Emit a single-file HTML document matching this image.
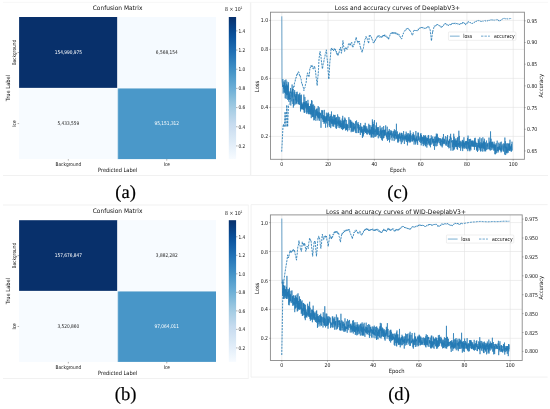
<!DOCTYPE html>
<html><head><meta charset="utf-8"><title>Confusion matrices and loss/accuracy curves</title>
<style>
html,body{margin:0;padding:0;background:#ffffff;}
body{width:550px;height:409px;overflow:hidden;}
svg{display:block;} text{text-rendering:geometricPrecision;}
</style></head>
<body>
<svg width="550" height="409" viewBox="0 0 550 409">
<rect x="0" y="0" width="550" height="409" fill="#ffffff"/>
<line x1="3" y1="2.4" x2="548" y2="2.4" stroke="#f6f6f6" stroke-width="0.9"/>
<line x1="3" y1="175.5" x2="548" y2="175.5" stroke="#efefef" stroke-width="0.9"/>
<line x1="3" y1="205" x2="248.5" y2="205" stroke="#efefef" stroke-width="0.9"/>
<line x1="251" y1="204.7" x2="547.6" y2="204.7" stroke="#efefef" stroke-width="0.9"/>
<line x1="3" y1="378.5" x2="248.5" y2="378.5" stroke="#efefef" stroke-width="0.9"/>
<line x1="251" y1="377.1" x2="547.6" y2="377.1" stroke="#efefef" stroke-width="0.9"/>
<line x1="250.6" y1="2.4" x2="250.6" y2="175.5" stroke="#f1f1f1" stroke-width="1.4"/>
<line x1="248.3" y1="205" x2="248.3" y2="378.5" stroke="#f3f3f3" stroke-width="0.9"/>
<line x1="251.1" y1="204.7" x2="251.1" y2="377.1" stroke="#efefef" stroke-width="0.9"/>
<rect x="19.1" y="17" width="98.45" height="71.05" fill="#08306b"/>
<rect x="117.55" y="17" width="98.45" height="71.05" fill="#f5faff"/>
<rect x="19.1" y="88.05" width="98.45" height="71.05" fill="#f7fbff"/>
<rect x="117.55" y="88.05" width="98.45" height="71.05" fill="#4a98c9"/>
<line x1="117.7" y1="17" x2="117.7" y2="159.1" stroke="#ffffff" stroke-width="0.55"/>
<line x1="19.1" y1="88.25" x2="216" y2="88.25" stroke="#ffffff" stroke-width="0.55"/>
<text transform="translate(68.33 54.07) scale(1 1.2)" font-size="4.3" text-anchor="middle" fill="#ffffff" font-family="'DejaVu Sans', 'Liberation Sans', sans-serif">154,990,975</text>
<text transform="translate(166.78 54.07) scale(1 1.2)" font-size="4.3" text-anchor="middle" fill="#262626" font-family="'DejaVu Sans', 'Liberation Sans', sans-serif">6,568,154</text>
<text transform="translate(68.33 125.12) scale(1 1.2)" font-size="4.3" text-anchor="middle" fill="#262626" font-family="'DejaVu Sans', 'Liberation Sans', sans-serif">5,433,559</text>
<text transform="translate(166.78 125.12) scale(1 1.2)" font-size="4.3" text-anchor="middle" fill="#ffffff" font-family="'DejaVu Sans', 'Liberation Sans', sans-serif">95,151,312</text>
<text transform="translate(117.6 9.7) scale(1 1.05)" font-size="5.9" text-anchor="middle" fill="#111111" font-family="'DejaVu Sans', 'Liberation Sans', sans-serif">Confusion Matrix</text>
<line x1="17.6" y1="52.52" x2="19.1" y2="52.52" stroke="#333" stroke-width="0.4"/>
<text transform="translate(15.9 52.52) rotate(-90) scale(1 1.2)" font-size="4.3" text-anchor="middle" fill="#111111" font-family="'DejaVu Sans', 'Liberation Sans', sans-serif">Background</text>
<line x1="17.6" y1="123.57" x2="19.1" y2="123.57" stroke="#333" stroke-width="0.4"/>
<text transform="translate(15.9 123.57) rotate(-90) scale(1 1.2)" font-size="4.3" text-anchor="middle" fill="#111111" font-family="'DejaVu Sans', 'Liberation Sans', sans-serif">Ice</text>
<text transform="translate(9.9 88.05) rotate(-90) scale(1 1.12)" font-size="5.1" text-anchor="middle" fill="#111111" font-family="'DejaVu Sans', 'Liberation Sans', sans-serif">True Label</text>
<line x1="68.33" y1="159.1" x2="68.33" y2="160.6" stroke="#333" stroke-width="0.4"/>
<text transform="translate(68.33 165.7) scale(1 1.2)" font-size="4.3" text-anchor="middle" fill="#111111" font-family="'DejaVu Sans', 'Liberation Sans', sans-serif">Background</text>
<line x1="166.78" y1="159.1" x2="166.78" y2="160.6" stroke="#333" stroke-width="0.4"/>
<text transform="translate(166.78 165.7) scale(1 1.2)" font-size="4.3" text-anchor="middle" fill="#111111" font-family="'DejaVu Sans', 'Liberation Sans', sans-serif">Ice</text>
<text transform="translate(117.6 172) scale(1 1.12)" font-size="5.1" text-anchor="middle" fill="#111111" font-family="'DejaVu Sans', 'Liberation Sans', sans-serif">Predicted Label</text>
<defs><linearGradient id="g17" x1="0" y1="0" x2="0" y2="1"><stop offset="0.00" stop-color="#08306b"/><stop offset="0.05" stop-color="#083d7f"/><stop offset="0.10" stop-color="#084a92"/><stop offset="0.15" stop-color="#0d57a1"/><stop offset="0.20" stop-color="#1764ab"/><stop offset="0.25" stop-color="#2171b5"/><stop offset="0.30" stop-color="#2e7ebc"/><stop offset="0.35" stop-color="#3b8bc3"/><stop offset="0.40" stop-color="#4a98c9"/><stop offset="0.45" stop-color="#5ba3d0"/><stop offset="0.50" stop-color="#6baed6"/><stop offset="0.55" stop-color="#7fb9da"/><stop offset="0.60" stop-color="#94c4df"/><stop offset="0.65" stop-color="#a6cde4"/><stop offset="0.70" stop-color="#b6d4e9"/><stop offset="0.75" stop-color="#c6dbef"/><stop offset="0.80" stop-color="#d0e1f2"/><stop offset="0.85" stop-color="#d9e8f5"/><stop offset="0.90" stop-color="#e3eef9"/><stop offset="0.95" stop-color="#edf5fc"/><stop offset="1.00" stop-color="#f7fbff"/></linearGradient></defs>
<rect x="228.8" y="17" width="7.3" height="142.1" fill="url(#g17)"/>
<line x1="236.1" y1="30.9" x2="237.5" y2="30.9" stroke="#333" stroke-width="0.4"/>
<text transform="translate(238.5 32.8) scale(1 1.2)" font-size="4.3" text-anchor="start" fill="#111111" font-family="'DejaVu Sans', 'Liberation Sans', sans-serif">1.4</text>
<line x1="236.1" y1="50.07" x2="237.5" y2="50.07" stroke="#333" stroke-width="0.4"/>
<text transform="translate(238.5 51.97) scale(1 1.2)" font-size="4.3" text-anchor="start" fill="#111111" font-family="'DejaVu Sans', 'Liberation Sans', sans-serif">1.2</text>
<line x1="236.1" y1="69.24" x2="237.5" y2="69.24" stroke="#333" stroke-width="0.4"/>
<text transform="translate(238.5 71.14) scale(1 1.2)" font-size="4.3" text-anchor="start" fill="#111111" font-family="'DejaVu Sans', 'Liberation Sans', sans-serif">1.0</text>
<line x1="236.1" y1="88.41" x2="237.5" y2="88.41" stroke="#333" stroke-width="0.4"/>
<text transform="translate(238.5 90.31) scale(1 1.2)" font-size="4.3" text-anchor="start" fill="#111111" font-family="'DejaVu Sans', 'Liberation Sans', sans-serif">0.8</text>
<line x1="236.1" y1="107.58" x2="237.5" y2="107.58" stroke="#333" stroke-width="0.4"/>
<text transform="translate(238.5 109.48) scale(1 1.2)" font-size="4.3" text-anchor="start" fill="#111111" font-family="'DejaVu Sans', 'Liberation Sans', sans-serif">0.6</text>
<line x1="236.1" y1="126.75" x2="237.5" y2="126.75" stroke="#333" stroke-width="0.4"/>
<text transform="translate(238.5 128.65) scale(1 1.2)" font-size="4.3" text-anchor="start" fill="#111111" font-family="'DejaVu Sans', 'Liberation Sans', sans-serif">0.4</text>
<line x1="236.1" y1="145.92" x2="237.5" y2="145.92" stroke="#333" stroke-width="0.4"/>
<text transform="translate(238.5 147.82) scale(1 1.2)" font-size="4.3" text-anchor="start" fill="#111111" font-family="'DejaVu Sans', 'Liberation Sans', sans-serif">0.2</text>
<text transform="translate(233.8 10.9) scale(1 1.2)" font-size="4.6" text-anchor="middle" fill="#111111" font-family="'DejaVu Sans', 'Liberation Sans', sans-serif">8 × 10<tspan dy="-1.7" font-size="3.0">1</tspan></text>
<rect x="19.1" y="220.2" width="98.45" height="70.85" fill="#08306b"/>
<rect x="117.55" y="220.2" width="98.45" height="70.85" fill="#f7fbff"/>
<rect x="19.1" y="291.05" width="98.45" height="70.85" fill="#f7fbff"/>
<rect x="117.55" y="291.05" width="98.45" height="70.85" fill="#4896c8"/>
<line x1="117.7" y1="220.2" x2="117.7" y2="361.9" stroke="#ffffff" stroke-width="0.55"/>
<line x1="19.1" y1="291.25" x2="216" y2="291.25" stroke="#ffffff" stroke-width="0.55"/>
<text transform="translate(68.33 257.17) scale(1 1.2)" font-size="4.3" text-anchor="middle" fill="#ffffff" font-family="'DejaVu Sans', 'Liberation Sans', sans-serif">157,676,847</text>
<text transform="translate(166.78 257.17) scale(1 1.2)" font-size="4.3" text-anchor="middle" fill="#262626" font-family="'DejaVu Sans', 'Liberation Sans', sans-serif">3,882,282</text>
<text transform="translate(68.33 328.02) scale(1 1.2)" font-size="4.3" text-anchor="middle" fill="#262626" font-family="'DejaVu Sans', 'Liberation Sans', sans-serif">3,520,860</text>
<text transform="translate(166.78 328.02) scale(1 1.2)" font-size="4.3" text-anchor="middle" fill="#ffffff" font-family="'DejaVu Sans', 'Liberation Sans', sans-serif">97,064,011</text>
<text transform="translate(117.6 212.9) scale(1 1.05)" font-size="5.9" text-anchor="middle" fill="#111111" font-family="'DejaVu Sans', 'Liberation Sans', sans-serif">Confusion Matrix</text>
<line x1="17.6" y1="255.62" x2="19.1" y2="255.62" stroke="#333" stroke-width="0.4"/>
<text transform="translate(15.9 255.62) rotate(-90) scale(1 1.2)" font-size="4.3" text-anchor="middle" fill="#111111" font-family="'DejaVu Sans', 'Liberation Sans', sans-serif">Background</text>
<line x1="17.6" y1="326.47" x2="19.1" y2="326.47" stroke="#333" stroke-width="0.4"/>
<text transform="translate(15.9 326.47) rotate(-90) scale(1 1.2)" font-size="4.3" text-anchor="middle" fill="#111111" font-family="'DejaVu Sans', 'Liberation Sans', sans-serif">Ice</text>
<text transform="translate(9.9 291.05) rotate(-90) scale(1 1.12)" font-size="5.1" text-anchor="middle" fill="#111111" font-family="'DejaVu Sans', 'Liberation Sans', sans-serif">True Label</text>
<line x1="68.33" y1="361.9" x2="68.33" y2="363.4" stroke="#333" stroke-width="0.4"/>
<text transform="translate(68.33 368.5) scale(1 1.2)" font-size="4.3" text-anchor="middle" fill="#111111" font-family="'DejaVu Sans', 'Liberation Sans', sans-serif">Background</text>
<line x1="166.78" y1="361.9" x2="166.78" y2="363.4" stroke="#333" stroke-width="0.4"/>
<text transform="translate(166.78 368.5) scale(1 1.2)" font-size="4.3" text-anchor="middle" fill="#111111" font-family="'DejaVu Sans', 'Liberation Sans', sans-serif">Ice</text>
<text transform="translate(117.6 374.8) scale(1 1.12)" font-size="5.1" text-anchor="middle" fill="#111111" font-family="'DejaVu Sans', 'Liberation Sans', sans-serif">Predicted Label</text>
<defs><linearGradient id="g220" x1="0" y1="0" x2="0" y2="1"><stop offset="0.00" stop-color="#08306b"/><stop offset="0.05" stop-color="#083d7f"/><stop offset="0.10" stop-color="#084a92"/><stop offset="0.15" stop-color="#0d57a1"/><stop offset="0.20" stop-color="#1764ab"/><stop offset="0.25" stop-color="#2171b5"/><stop offset="0.30" stop-color="#2e7ebc"/><stop offset="0.35" stop-color="#3b8bc3"/><stop offset="0.40" stop-color="#4a98c9"/><stop offset="0.45" stop-color="#5ba3d0"/><stop offset="0.50" stop-color="#6baed6"/><stop offset="0.55" stop-color="#7fb9da"/><stop offset="0.60" stop-color="#94c4df"/><stop offset="0.65" stop-color="#a6cde4"/><stop offset="0.70" stop-color="#b6d4e9"/><stop offset="0.75" stop-color="#c6dbef"/><stop offset="0.80" stop-color="#d0e1f2"/><stop offset="0.85" stop-color="#d9e8f5"/><stop offset="0.90" stop-color="#e3eef9"/><stop offset="0.95" stop-color="#edf5fc"/><stop offset="1.00" stop-color="#f7fbff"/></linearGradient></defs>
<rect x="228.8" y="220.2" width="7.3" height="141.7" fill="url(#g220)"/>
<line x1="236.1" y1="236.8" x2="237.5" y2="236.8" stroke="#333" stroke-width="0.4"/>
<text transform="translate(238.5 238.7) scale(1 1.2)" font-size="4.3" text-anchor="start" fill="#111111" font-family="'DejaVu Sans', 'Liberation Sans', sans-serif">1.4</text>
<line x1="236.1" y1="255.32" x2="237.5" y2="255.32" stroke="#333" stroke-width="0.4"/>
<text transform="translate(238.5 257.22) scale(1 1.2)" font-size="4.3" text-anchor="start" fill="#111111" font-family="'DejaVu Sans', 'Liberation Sans', sans-serif">1.2</text>
<line x1="236.1" y1="273.84" x2="237.5" y2="273.84" stroke="#333" stroke-width="0.4"/>
<text transform="translate(238.5 275.74) scale(1 1.2)" font-size="4.3" text-anchor="start" fill="#111111" font-family="'DejaVu Sans', 'Liberation Sans', sans-serif">1.0</text>
<line x1="236.1" y1="292.36" x2="237.5" y2="292.36" stroke="#333" stroke-width="0.4"/>
<text transform="translate(238.5 294.26) scale(1 1.2)" font-size="4.3" text-anchor="start" fill="#111111" font-family="'DejaVu Sans', 'Liberation Sans', sans-serif">0.8</text>
<line x1="236.1" y1="310.88" x2="237.5" y2="310.88" stroke="#333" stroke-width="0.4"/>
<text transform="translate(238.5 312.78) scale(1 1.2)" font-size="4.3" text-anchor="start" fill="#111111" font-family="'DejaVu Sans', 'Liberation Sans', sans-serif">0.6</text>
<line x1="236.1" y1="329.4" x2="237.5" y2="329.4" stroke="#333" stroke-width="0.4"/>
<text transform="translate(238.5 331.3) scale(1 1.2)" font-size="4.3" text-anchor="start" fill="#111111" font-family="'DejaVu Sans', 'Liberation Sans', sans-serif">0.4</text>
<line x1="236.1" y1="347.92" x2="237.5" y2="347.92" stroke="#333" stroke-width="0.4"/>
<text transform="translate(238.5 349.82) scale(1 1.2)" font-size="4.3" text-anchor="start" fill="#111111" font-family="'DejaVu Sans', 'Liberation Sans', sans-serif">0.2</text>
<text transform="translate(233.8 214.6) scale(1 1.2)" font-size="4.6" text-anchor="middle" fill="#111111" font-family="'DejaVu Sans', 'Liberation Sans', sans-serif">8 × 10<tspan dy="-1.7" font-size="3.0">1</tspan></text>
<defs><clipPath id="c12"><rect x="270.5" y="12.2" width="253.9" height="147.1"/></clipPath></defs>
<line x1="281.8" y1="12.2" x2="281.8" y2="159.3" stroke="#e3e3e3" stroke-width="0.6"/>
<line x1="328.08" y1="12.2" x2="328.08" y2="159.3" stroke="#e3e3e3" stroke-width="0.6"/>
<line x1="374.36" y1="12.2" x2="374.36" y2="159.3" stroke="#e3e3e3" stroke-width="0.6"/>
<line x1="420.64" y1="12.2" x2="420.64" y2="159.3" stroke="#e3e3e3" stroke-width="0.6"/>
<line x1="466.92" y1="12.2" x2="466.92" y2="159.3" stroke="#e3e3e3" stroke-width="0.6"/>
<line x1="513.2" y1="12.2" x2="513.2" y2="159.3" stroke="#e3e3e3" stroke-width="0.6"/>
<line x1="270.5" y1="136.4" x2="524.4" y2="136.4" stroke="#e3e3e3" stroke-width="0.6"/>
<line x1="270.5" y1="107.4" x2="524.4" y2="107.4" stroke="#e3e3e3" stroke-width="0.6"/>
<line x1="270.5" y1="78.4" x2="524.4" y2="78.4" stroke="#e3e3e3" stroke-width="0.6"/>
<line x1="270.5" y1="49.4" x2="524.4" y2="49.4" stroke="#e3e3e3" stroke-width="0.6"/>
<line x1="270.5" y1="20.4" x2="524.4" y2="20.4" stroke="#e3e3e3" stroke-width="0.6"/>
<path d="M281.80 16.34 L282.03 81.30 L282.38 83.87 L282.63 87.01 L282.89 79.06 L283.15 93.52 L283.40 85.01 L283.66 88.67 L283.91 81.36 L284.17 91.97 L284.42 82.57 L284.68 92.91 L284.94 80.03 L285.19 98.27 L285.45 85.72 L285.70 93.77 L285.96 79.48 L286.21 98.89 L286.47 84.36 L286.73 95.19 L286.98 81.57 L287.24 94.85 L287.49 85.77 L287.75 100.01 L288.00 84.53 L288.26 98.80 L288.52 82.25 L288.77 101.69 L289.03 91.29 L289.28 99.52 L289.54 93.39 L289.79 99.59 L290.05 91.93 L290.31 93.07 L290.56 87.97 L290.82 105.51 L291.07 91.27 L291.33 92.68 L291.58 93.17 L291.84 101.38 L292.10 84.49 L292.35 97.38 L292.61 88.71 L292.86 104.01 L293.12 88.94 L293.37 107.61 L293.63 99.00 L293.89 105.76 L294.14 92.13 L294.40 96.47 L294.65 90.17 L294.91 104.78 L295.16 95.97 L295.42 100.34 L295.68 94.23 L295.93 104.08 L296.19 91.96 L296.44 102.98 L296.70 94.13 L296.95 104.20 L297.21 91.72 L297.47 99.93 L297.72 101.31 L297.98 102.24 L298.23 94.21 L298.49 104.26 L298.74 95.37 L299.00 104.21 L299.26 94.34 L299.51 104.85 L299.77 92.76 L300.02 99.75 L300.28 99.42 L300.53 111.47 L300.79 95.16 L301.05 109.06 L301.30 94.61 L301.56 108.73 L301.81 102.49 L302.07 109.69 L302.32 104.41 L302.58 109.02 L302.84 103.57 L303.09 108.69 L303.35 102.26 L303.60 110.13 L303.86 94.58 L304.12 112.56 L304.37 102.20 L304.63 112.88 L304.88 96.94 L305.14 106.73 L305.39 102.59 L305.65 108.41 L305.91 101.12 L306.16 112.27 L306.42 100.96 L306.67 113.79 L306.93 103.78 L307.18 109.53 L307.44 103.52 L307.70 112.47 L307.95 99.88 L308.21 113.90 L308.46 103.44 L308.72 114.28 L308.97 106.04 L309.23 112.17 L309.49 106.08 L309.74 114.02 L310.00 108.65 L310.25 114.50 L310.51 103.77 L310.76 114.16 L311.02 105.71 L311.28 118.14 L311.53 100.16 L311.79 114.62 L312.04 100.69 L312.30 116.77 L312.55 104.71 L312.81 117.12 L313.07 109.89 L313.32 116.73 L313.58 104.46 L313.83 120.39 L314.09 107.80 L314.34 120.02 L314.60 105.87 L314.86 111.14 L315.11 111.55 L315.37 118.36 L315.62 110.05 L315.88 120.82 L316.13 109.11 L316.39 115.45 L316.65 108.74 L316.90 115.59 L317.16 108.47 L317.41 117.34 L317.67 111.33 L317.92 120.52 L318.18 106.04 L318.44 118.43 L318.69 112.48 L318.95 117.86 L319.20 107.32 L319.46 120.74 L319.71 112.34 L319.97 118.37 L320.23 112.90 L320.48 115.18 L320.74 113.28 L320.99 127.80 L321.25 115.13 L321.50 118.21 L321.76 109.99 L322.02 115.54 L322.27 110.80 L322.53 119.49 L322.78 110.25 L323.04 122.00 L323.29 115.08 L323.55 121.74 L323.81 115.74 L324.06 123.97 L324.32 109.89 L324.57 122.78 L324.83 116.01 L325.08 122.00 L325.34 117.40 L325.60 127.76 L325.85 116.39 L326.11 121.41 L326.36 112.67 L326.62 123.45 L326.87 116.07 L327.13 120.64 L327.39 114.53 L327.64 127.31 L327.90 112.95 L328.15 116.36 L328.41 112.54 L328.66 121.11 L328.92 113.92 L329.18 125.38 L329.43 116.70 L329.69 127.06 L329.94 119.60 L330.20 121.78 L330.45 115.98 L330.71 128.10 L330.97 114.38 L331.22 123.40 L331.48 111.44 L331.73 123.77 L331.99 118.69 L332.24 126.40 L332.50 116.52 L332.76 124.05 L333.01 119.50 L333.27 125.82 L333.52 114.78 L333.78 126.87 L334.03 119.48 L334.29 123.62 L334.55 115.16 L334.80 124.60 L335.06 114.86 L335.31 124.51 L335.57 117.73 L335.82 127.84 L336.08 117.98 L336.34 128.99 L336.59 117.10 L336.85 127.65 L337.10 121.41 L337.36 123.64 L337.61 114.37 L337.87 125.97 L338.13 119.61 L338.38 124.60 L338.64 116.56 L338.89 127.76 L339.15 121.20 L339.40 125.75 L339.66 117.22 L339.92 128.19 L340.17 119.87 L340.43 127.07 L340.68 121.45 L340.94 127.18 L341.20 120.69 L341.45 129.06 L341.71 123.33 L341.96 127.15 L342.22 118.50 L342.47 130.08 L342.73 115.84 L342.99 128.70 L343.24 121.24 L343.50 129.20 L343.75 120.35 L344.01 128.41 L344.26 119.83 L344.52 128.18 L344.78 117.51 L345.03 121.48 L345.29 118.71 L345.54 130.53 L345.80 123.84 L346.05 129.51 L346.31 120.00 L346.57 130.07 L346.82 123.80 L347.08 129.29 L347.33 124.27 L347.59 131.39 L347.84 125.00 L348.10 127.99 L348.36 123.82 L348.61 123.89 L348.87 117.19 L349.12 130.22 L349.38 126.84 L349.63 126.83 L349.89 119.46 L350.15 127.66 L350.40 120.27 L350.66 127.81 L350.91 120.39 L351.17 132.18 L351.42 122.00 L351.68 131.17 L351.94 121.62 L352.19 122.35 L352.45 124.84 L352.70 131.69 L352.96 122.88 L353.21 131.80 L353.47 122.83 L353.73 130.75 L353.98 126.95 L354.24 129.51 L354.49 123.71 L354.75 128.53 L355.00 126.29 L355.26 131.51 L355.52 121.23 L355.77 133.06 L356.03 125.20 L356.28 125.16 L356.54 120.46 L356.79 133.11 L357.05 125.58 L357.31 123.61 L357.56 123.69 L357.82 128.35 L358.07 122.05 L358.33 132.87 L358.58 124.02 L358.84 133.06 L359.10 124.99 L359.35 130.22 L359.61 126.96 L359.86 127.05 L360.12 129.33 L360.37 134.96 L360.63 122.98 L360.89 132.20 L361.14 126.43 L361.40 132.51 L361.65 127.10 L361.91 132.56 L362.16 126.72 L362.42 137.95 L362.68 129.39 L362.93 136.89 L363.19 128.84 L363.44 135.56 L363.70 125.31 L363.95 133.90 L364.21 125.74 L364.47 131.45 L364.72 125.58 L364.98 131.91 L365.23 122.87 L365.49 132.94 L365.74 126.40 L366.00 132.90 L366.26 128.49 L366.51 134.25 L366.77 126.37 L367.02 131.83 L367.28 128.58 L367.53 134.49 L367.79 129.63 L368.05 132.05 L368.30 130.52 L368.56 132.75 L368.81 123.78 L369.07 134.14 L369.32 125.01 L369.58 134.85 L369.84 129.50 L370.09 135.20 L370.35 129.69 L370.60 133.79 L370.86 125.23 L371.11 137.54 L371.37 126.84 L371.63 136.74 L371.88 127.19 L372.14 137.51 L372.39 119.40 L372.65 134.01 L372.90 121.70 L373.16 134.62 L373.42 124.04 L373.67 137.78 L373.93 128.17 L374.18 134.40 L374.44 120.07 L374.69 136.84 L374.95 130.78 L375.21 131.89 L375.46 129.33 L375.72 136.78 L375.97 125.41 L376.23 135.84 L376.48 122.56 L376.74 134.23 L377.00 127.32 L377.25 135.01 L377.51 127.33 L377.76 134.74 L378.02 128.96 L378.28 138.33 L378.53 127.12 L378.79 134.49 L379.04 131.07 L379.30 136.36 L379.55 134.39 L379.81 135.70 L380.07 125.74 L380.32 137.96 L380.58 129.70 L380.83 134.46 L381.09 128.21 L381.34 138.45 L381.60 130.51 L381.86 139.93 L382.11 127.18 L382.37 140.79 L382.62 130.41 L382.88 132.70 L383.13 129.96 L383.39 138.40 L383.65 126.03 L383.90 137.95 L384.16 129.95 L384.41 135.37 L384.67 130.18 L384.92 135.97 L385.18 129.31 L385.44 135.14 L385.69 125.37 L385.95 133.38 L386.20 134.19 L386.46 137.29 L386.71 132.40 L386.97 139.16 L387.23 126.71 L387.48 140.88 L387.74 132.22 L387.99 134.48 L388.25 131.48 L388.50 139.80 L388.76 130.84 L389.02 136.74 L389.27 129.04 L389.53 142.40 L389.78 133.26 L390.04 139.53 L390.29 130.32 L390.55 135.16 L390.81 132.21 L391.06 135.12 L391.32 130.57 L391.57 137.71 L391.83 130.94 L392.08 140.57 L392.34 133.35 L392.60 136.31 L392.85 135.33 L393.11 131.53 L393.36 131.85 L393.62 137.81 L393.87 130.87 L394.13 141.05 L394.39 129.30 L394.64 138.37 L394.90 133.97 L395.15 139.50 L395.41 130.31 L395.66 136.07 L395.92 131.98 L396.18 138.49 L396.43 123.74 L396.69 138.48 L396.94 135.26 L397.20 139.34 L397.45 131.45 L397.71 142.40 L397.97 134.16 L398.22 142.52 L398.48 135.32 L398.73 141.15 L398.99 133.93 L399.24 138.75 L399.50 132.73 L399.76 138.05 L400.01 134.20 L400.27 141.47 L400.52 136.46 L400.78 139.46 L401.03 132.78 L401.29 144.16 L401.55 132.93 L401.80 138.05 L402.06 133.21 L402.31 142.30 L402.57 134.82 L402.82 139.54 L403.08 137.46 L403.34 140.49 L403.59 131.12 L403.85 138.72 L404.10 135.32 L404.36 144.01 L404.61 136.32 L404.87 139.19 L405.13 134.18 L405.38 139.32 L405.64 135.87 L405.89 140.60 L406.15 131.66 L406.40 142.00 L406.66 135.09 L406.92 139.84 L407.17 133.12 L407.43 145.42 L407.68 134.32 L407.94 142.47 L408.19 136.61 L408.45 141.10 L408.71 133.09 L408.96 139.77 L409.22 134.36 L409.47 141.63 L409.73 134.61 L409.98 142.76 L410.24 130.54 L410.50 141.68 L410.75 133.13 L411.01 141.76 L411.26 135.50 L411.52 138.57 L411.77 138.29 L412.03 140.87 L412.29 135.50 L412.54 141.58 L412.80 133.99 L413.05 140.82 L413.31 132.32 L413.56 139.98 L413.82 134.41 L414.08 144.58 L414.33 135.30 L414.59 141.31 L414.84 137.55 L415.10 142.32 L415.35 138.71 L415.61 144.51 L415.87 130.98 L416.12 141.19 L416.38 137.20 L416.63 141.32 L416.89 135.73 L417.15 143.34 L417.40 139.44 L417.66 144.90 L417.91 132.60 L418.17 140.71 L418.42 132.72 L418.68 140.12 L418.94 137.61 L419.19 136.56 L419.45 138.66 L419.70 142.10 L419.96 137.88 L420.21 140.51 L420.47 133.75 L420.73 143.03 L420.98 133.18 L421.24 145.35 L421.49 135.10 L421.75 142.32 L422.00 136.66 L422.26 140.72 L422.52 137.39 L422.77 143.83 L423.03 137.05 L423.28 146.09 L423.54 135.13 L423.79 144.11 L424.05 137.92 L424.31 144.81 L424.56 135.59 L424.82 142.95 L425.07 136.56 L425.33 146.21 L425.58 135.23 L425.84 146.29 L426.10 136.93 L426.35 144.11 L426.61 138.43 L426.86 147.63 L427.12 137.95 L427.37 141.15 L427.63 137.95 L427.89 144.91 L428.14 135.45 L428.40 143.57 L428.65 134.98 L428.91 143.10 L429.16 141.40 L429.42 145.59 L429.68 138.79 L429.93 144.69 L430.19 138.53 L430.44 147.29 L430.70 138.49 L430.95 144.89 L431.21 135.28 L431.47 138.84 L431.72 137.70 L431.98 144.23 L432.23 138.89 L432.49 142.34 L432.74 136.51 L433.00 142.91 L433.26 138.95 L433.51 145.97 L433.77 138.82 L434.02 142.77 L434.28 141.14 L434.53 149.82 L434.79 136.88 L435.05 145.85 L435.30 136.48 L435.56 142.99 L435.81 139.57 L436.07 146.44 L436.32 133.62 L436.58 142.40 L436.84 134.80 L437.09 145.91 L437.35 133.81 L437.60 143.48 L437.86 138.58 L438.11 142.70 L438.37 137.35 L438.63 141.50 L438.88 138.16 L439.14 140.62 L439.39 138.24 L439.65 143.10 L439.90 141.46 L440.16 144.80 L440.42 138.39 L440.67 145.37 L440.93 138.61 L441.18 146.29 L441.44 140.46 L441.69 141.82 L441.95 139.12 L442.21 147.42 L442.46 137.52 L442.72 145.51 L442.97 140.96 L443.23 143.90 L443.48 133.99 L443.74 143.43 L444.00 138.80 L444.25 143.37 L444.51 139.40 L444.76 144.13 L445.02 139.43 L445.27 137.98 L445.53 136.23 L445.79 145.31 L446.04 139.71 L446.30 145.73 L446.55 141.56 L446.81 144.05 L447.06 136.82 L447.32 141.35 L447.58 135.08 L447.83 146.87 L448.09 141.08 L448.34 146.86 L448.60 141.06 L448.85 148.34 L449.11 139.86 L449.37 143.39 L449.62 138.97 L449.88 147.82 L450.13 136.19 L450.39 138.90 L450.64 133.81 L450.90 150.61 L451.16 137.64 L451.41 142.39 L451.67 140.91 L451.92 140.86 L452.18 142.21 L452.43 147.20 L452.69 140.05 L452.95 150.78 L453.20 140.35 L453.46 149.84 L453.71 133.72 L453.97 145.07 L454.23 136.70 L454.48 149.45 L454.74 139.59 L454.99 147.30 L455.25 140.55 L455.50 146.47 L455.76 138.50 L456.02 146.97 L456.27 141.00 L456.53 146.96 L456.78 140.19 L457.04 149.14 L457.29 138.10 L457.55 149.67 L457.81 136.99 L458.06 145.16 L458.32 143.02 L458.57 147.10 L458.83 130.74 L459.08 145.71 L459.34 135.96 L459.60 148.03 L459.85 141.00 L460.11 146.62 L460.36 142.28 L460.62 150.79 L460.87 140.77 L461.13 143.67 L461.39 143.62 L461.64 146.43 L461.90 141.87 L462.15 148.37 L462.41 140.20 L462.66 151.09 L462.92 139.85 L463.18 148.21 L463.43 141.23 L463.69 146.63 L463.94 137.29 L464.20 148.84 L464.45 143.05 L464.71 147.24 L464.97 141.92 L465.22 148.20 L465.48 141.34 L465.73 145.14 L465.99 141.09 L466.24 148.67 L466.50 140.97 L466.76 149.21 L467.01 142.17 L467.27 144.48 L467.52 138.08 L467.78 151.16 L468.03 135.61 L468.29 147.77 L468.55 142.06 L468.80 148.79 L469.06 139.06 L469.31 150.30 L469.57 139.26 L469.82 151.29 L470.08 145.16 L470.34 149.05 L470.59 138.87 L470.85 150.26 L471.10 140.98 L471.36 145.63 L471.61 140.84 L471.87 146.90 L472.13 140.34 L472.38 146.01 L472.64 140.86 L472.89 146.69 L473.15 141.02 L473.40 146.48 L473.66 142.41 L473.92 146.76 L474.17 140.19 L474.43 149.80 L474.68 138.32 L474.94 146.94 L475.19 137.79 L475.45 146.80 L475.71 141.63 L475.96 144.09 L476.22 142.80 L476.47 150.50 L476.73 143.11 L476.98 149.33 L477.24 142.96 L477.50 151.97 L477.75 145.12 L478.01 150.79 L478.26 138.84 L478.52 146.84 L478.77 140.50 L479.03 147.76 L479.29 142.97 L479.54 148.26 L479.80 137.32 L480.05 150.18 L480.31 142.31 L480.56 151.44 L480.82 144.41 L481.08 151.20 L481.33 138.35 L481.59 148.33 L481.84 142.71 L482.10 147.43 L482.35 143.32 L482.61 151.57 L482.87 137.27 L483.12 147.96 L483.38 142.09 L483.63 148.86 L483.89 140.82 L484.14 151.37 L484.40 138.73 L484.66 149.51 L484.91 142.45 L485.17 151.13 L485.42 142.50 L485.68 151.36 L485.93 146.48 L486.19 145.94 L486.45 140.53 L486.70 149.95 L486.96 144.43 L487.21 149.14 L487.47 143.53 L487.72 146.58 L487.98 142.81 L488.24 149.18 L488.49 149.10 L488.75 148.78 L489.00 137.58 L489.26 148.88 L489.51 142.42 L489.77 149.68 L490.03 141.43 L490.28 150.58 L490.54 131.40 L490.79 146.88 L491.05 138.76 L491.31 150.12 L491.56 142.21 L491.82 148.19 L492.07 141.74 L492.33 147.42 L492.58 141.84 L492.84 149.54 L493.10 143.52 L493.35 147.79 L493.61 144.52 L493.86 150.69 L494.12 141.68 L494.37 150.29 L494.63 144.46 L494.89 154.19 L495.14 144.78 L495.40 154.22 L495.65 144.66 L495.91 151.70 L496.16 143.16 L496.42 153.27 L496.68 149.53 L496.93 146.59 L497.19 140.67 L497.44 151.01 L497.70 146.92 L497.95 152.67 L498.21 146.90 L498.47 151.36 L498.72 142.71 L498.98 150.00 L499.23 146.16 L499.49 149.31 L499.74 143.76 L500.00 150.31 L500.26 142.26 L500.51 150.60 L500.77 147.70 L501.02 152.40 L501.28 141.65 L501.53 151.48 L501.79 145.65 L502.05 149.63 L502.30 144.43 L502.56 144.80 L502.81 145.69 L503.07 151.34 L503.32 143.40 L503.58 151.53 L503.84 146.67 L504.09 147.09 L504.35 143.77 L504.60 154.52 L504.86 137.56 L505.11 148.33 L505.37 141.25 L505.63 155.04 L505.88 146.36 L506.14 152.53 L506.39 143.50 L506.65 153.25 L506.90 147.17 L507.16 153.26 L507.42 143.30 L507.67 151.44 L507.93 148.74 L508.18 152.77 L508.44 143.46 L508.69 150.10 L508.95 144.04 L509.21 150.71 L509.46 143.40 L509.72 150.68 L509.97 139.70 L510.23 150.80 L510.48 146.65 L510.74 149.21 L511.00 145.68 L511.25 151.90 L511.51 144.13 L511.76 150.99 L512.02 141.68 L512.27 150.22" fill="none" stroke="#1f77b4" stroke-width="0.65" stroke-linejoin="round" clip-path="url(#c12)"/>
<path d="M281.70 151.70 L282.30 140.00 L282.90 128.00 L283.40 124.10 L284.25 127.00 L285.10 111.70 L285.95 127.00 L286.80 105.00 L287.65 126.80 L288.50 105.00 L289.50 104.00 L289.60 104.19 L290.15 99.37 L290.50 98.00 L290.70 97.91 L291.25 93.88 L291.80 93.91 L292.00 92.00 L292.35 90.29 L292.90 90.07 L293.45 86.65 L294.00 86.00 L294.00 87.02 L294.55 82.60 L295.10 81.81 L295.30 80.00 L295.65 77.88 L296.20 78.09 L296.60 76.00 L296.75 74.48 L297.30 75.20 L297.85 72.50 L298.40 72.68 L298.50 71.70 L298.95 72.33 L299.50 75.66 L300.05 75.07 L300.60 77.60 L300.60 78.32 L301.15 79.32 L301.70 83.40 L302.10 84.00 L302.25 83.67 L302.80 87.05 L303.35 87.30 L303.90 90.67 L304.00 90.30 L304.45 88.08 L305.00 87.41 L305.55 84.27 L305.80 84.00 L306.10 82.89 L306.65 77.31 L307.20 75.04 L307.40 72.90 L307.75 72.88 L308.30 76.07 L308.85 75.69 L309.00 76.80 L309.40 74.02 L309.95 67.59 L310.10 67.30 L310.50 67.67 L311.05 65.24 L311.60 66.71 L311.70 65.70 L312.15 65.41 L312.70 68.41 L313.25 68.12 L313.30 68.90 L313.80 68.80 L314.35 66.03 L314.80 66.50 L314.90 68.30 L315.45 70.69 L316.00 76.00 L316.00 76.81 L316.55 79.71 L317.10 85.41 L317.20 85.60 L317.65 79.02 L318.20 74.25 L318.50 69.70 L318.75 63.55 L319.10 57.80 L319.30 57.13 L319.85 51.89 L320.10 51.40 L320.40 54.06 L320.95 55.77 L321.20 58.60 L321.50 62.10 L322.05 65.82 L322.30 68.90 L322.60 68.30 L323.15 63.79 L323.70 62.69 L323.90 61.00 L324.25 58.24 L324.80 57.71 L325.20 54.60 L325.35 53.30 L325.90 52.25 L326.30 49.80 L326.45 50.23 L327.00 57.38 L327.50 61.70 L327.55 61.37 L328.10 70.82 L328.65 76.04 L328.80 79.20 L329.20 73.76 L329.75 63.26 L329.90 61.70 L330.30 58.23 L330.85 51.15 L331.20 48.30 L331.40 49.15 L331.95 47.98 L332.50 49.94 L333.05 48.71 L333.10 49.80 L333.60 50.74 L334.15 48.59 L334.70 49.00 L334.70 49.99 L335.25 48.96 L335.80 51.93 L336.30 52.20 L336.35 51.15 L336.90 54.44 L337.45 53.45 L337.90 55.40 L338.00 55.86 L338.55 52.46 L339.10 52.94 L339.65 49.10 L339.80 49.80 L340.20 49.37 L340.50 47.40 L340.75 48.22 L341.30 53.11 L341.50 53.30 L341.85 49.59 L342.40 47.05 L342.95 40.60 L343.00 41.00 L343.50 45.64 L344.05 47.80 L344.40 51.30 L344.60 51.46 L345.15 48.57 L345.70 48.57 L345.90 47.40 L346.25 47.21 L346.80 49.33 L347.30 49.40 L347.35 48.74 L347.90 47.54 L348.45 44.20 L348.80 43.50 L349.00 44.39 L349.55 43.81 L350.10 45.69 L350.30 45.40 L350.65 43.70 L351.20 43.50 L351.50 42.00 L351.75 42.45 L352.30 46.33 L352.70 47.40 L352.85 46.18 L353.40 46.63 L353.95 43.92 L354.50 44.20 L354.70 43.00 L355.05 41.08 L355.60 40.32 L356.10 37.60 L356.15 37.20 L356.70 40.31 L357.25 40.81 L357.60 42.50 L357.80 43.11 L358.35 41.14 L358.90 42.06 L359.10 41.00 L359.45 41.79 L360.00 45.99 L360.50 47.40 L360.55 46.77 L361.10 49.97 L361.65 50.62 L362.00 52.30 L362.20 52.50 L362.75 49.38 L363.30 48.93 L363.50 47.40 L363.85 44.87 L364.40 42.94 L364.70 40.50 L364.95 39.01 L365.50 38.66 L365.90 36.60 L366.05 36.38 L366.60 38.62 L367.15 38.39 L367.40 39.60 L367.70 41.38 L368.25 41.65 L368.60 43.50 L368.80 42.18 L369.35 35.15 L369.40 35.20 L369.90 36.34 L370.45 35.52 L370.80 36.60 L371.00 37.61 L371.55 37.29 L372.10 40.03 L372.30 39.60 L372.65 40.14 L373.20 42.80 L373.50 43.00 L373.75 42.03 L374.30 42.40 L374.85 39.89 L375.30 40.00 L375.40 40.40 L375.95 38.23 L376.50 38.48 L376.80 37.30 L377.05 36.37 L377.60 37.17 L378.15 35.28 L378.60 35.50 L378.70 36.43 L379.25 35.60 L379.80 37.47 L380.00 37.00 L380.35 36.54 L380.90 37.81 L381.40 37.30 L381.45 36.61 L382.00 37.74 L382.55 35.68 L383.10 36.64 L383.20 36.00 L383.65 35.01 L384.20 36.53 L384.75 34.73 L385.00 35.50 L385.30 36.54 L385.85 35.69 L386.40 37.26 L386.80 37.00 L386.95 36.67 L387.50 38.56 L388.05 37.66 L388.60 39.10 L388.60 39.66 L389.15 36.81 L389.70 36.39 L390.25 33.68 L390.50 33.60 L390.80 33.96 L391.35 32.78 L391.90 33.87 L392.45 32.08 L393.00 33.58 L393.20 32.70 L393.55 32.01 L394.10 33.48 L394.65 32.44 L395.00 33.00 L395.20 33.90 L395.75 32.47 L396.30 34.19 L396.80 33.60 L396.85 33.08 L397.40 34.69 L397.95 33.82 L398.50 35.41 L399.05 34.44 L399.50 35.50 L399.60 36.45 L400.15 36.33 L400.70 38.29 L401.25 38.45 L401.40 39.10 L401.80 38.50 L402.35 35.87 L402.80 35.00 L402.90 35.09 L403.45 33.02 L404.00 32.49 L404.10 31.80 L404.55 30.83 L405.10 31.02 L405.65 29.35 L405.90 29.50 L406.20 29.72 L406.75 28.37 L407.30 28.86 L407.70 28.20 L407.85 27.97 L408.40 29.41 L408.95 28.94 L409.10 29.50 L409.50 30.48 L410.05 29.86 L410.50 30.90 L410.60 31.69 L411.15 32.25 L411.70 34.36 L412.25 34.83 L412.30 35.50 L412.80 34.33 L413.35 31.70 L413.90 30.91 L414.10 30.00 L414.45 29.55 L415.00 30.69 L415.55 30.03 L416.10 31.12 L416.65 30.53 L416.80 30.90 L417.20 30.99 L417.75 29.47 L418.30 29.97 L418.85 28.44 L419.40 28.89 L419.50 28.20 L419.95 27.74 L420.50 28.47 L421.05 27.12 L421.60 27.97 L422.15 26.77 L422.30 27.30 L422.70 27.95 L423.25 27.50 L423.80 28.68 L424.10 28.50 L424.35 27.88 L424.90 28.72 L425.45 27.95 L425.90 28.20 L426.00 28.44 L426.55 27.29 L427.10 27.93 L427.65 26.61 L428.20 27.01 L428.60 26.40 L428.75 26.17 L429.30 28.56 L429.85 28.89 L430.20 30.00 L430.40 32.15 L430.95 36.32 L431.40 40.90 L431.50 40.57 L432.05 35.75 L432.60 32.00 L432.60 32.48 L433.15 29.38 L433.70 28.28 L434.10 26.40 L434.25 25.84 L434.80 26.56 L435.35 25.27 L435.80 25.50 L435.90 25.87 L436.45 24.68 L437.00 25.22 L437.55 24.03 L437.70 24.50 L438.10 25.21 L438.65 24.91 L439.20 26.12 L439.50 26.00 L439.75 25.62 L440.30 27.05 L440.85 26.56 L441.40 27.30 L441.40 27.88 L441.95 26.28 L442.50 26.59 L443.05 25.23 L443.20 25.50 L443.60 25.49 L444.15 24.13 L444.70 24.43 L445.00 23.60 L445.25 23.21 L445.80 24.55 L446.35 23.84 L446.80 24.50 L446.90 25.15 L447.45 24.37 L448.00 25.49 L448.55 25.13 L448.60 25.50 L449.10 25.63 L449.65 24.45 L450.20 24.95 L450.75 23.85 L451.30 24.00 L451.30 24.60 L451.85 23.32 L452.40 24.14 L452.95 23.09 L453.50 23.63 L454.05 22.65 L454.10 23.10 L454.60 23.68 L455.15 22.86 L455.70 24.11 L456.25 23.22 L456.80 23.80 L456.80 24.12 L457.35 23.42 L457.90 24.40 L458.45 23.87 L459.00 24.92 L459.50 24.50 L459.55 23.88 L460.10 24.49 L460.65 23.42 L461.20 24.04 L461.30 23.40 L461.75 22.69 L462.30 23.43 L462.85 22.03 L463.20 22.40 L463.40 22.90 L463.95 22.54 L464.50 23.50 L464.50 24.05 L465.05 23.39 L465.60 24.78 L465.90 24.50 L466.15 23.78 L466.70 24.00 L467.20 23.00 L467.25 22.46 L467.80 22.82 L468.35 21.49 L468.60 21.80 L468.90 22.42 L469.45 21.92 L470.00 22.80 L470.50 22.80 L470.55 22.58 L471.10 23.27 L471.65 23.03 L472.20 23.82 L472.30 23.60 L472.75 22.99 L473.30 23.21 L473.85 22.41 L474.40 22.55 L474.95 21.69 L475.00 22.00 L475.50 22.02 L476.05 21.10 L476.60 21.35 L477.15 20.49 L477.70 20.50 L477.70 20.69 L478.25 20.45 L478.80 21.03 L479.35 20.78 L479.90 21.41 L480.45 21.14 L481.00 21.50 L481.00 21.79 L481.55 21.11 L482.10 21.58 L482.65 20.96 L483.20 21.40 L483.75 20.82 L484.30 21.20 L484.85 20.58 L485.00 20.90 L485.40 21.05 L485.95 20.52 L486.50 20.90 L487.05 20.43 L487.60 20.83 L488.00 20.50 L488.15 20.12 L488.70 20.58 L489.25 19.94 L489.80 20.49 L490.35 19.76 L490.50 20.00 L490.90 20.22 L491.45 19.84 L492.00 20.39 L492.55 19.94 L493.10 20.46 L493.65 20.00 L494.00 20.30 L494.20 20.44 L494.75 19.84 L495.30 20.28 L495.85 19.71 L496.40 19.97 L496.95 19.43 L497.50 19.79 L497.70 19.50 L498.05 19.51 L498.60 20.71 L499.15 20.69 L499.50 21.30 L499.70 21.44 L500.25 20.41 L500.80 20.46 L501.30 19.80 L501.35 19.56 L501.90 19.79 L502.45 18.92 L503.00 19.00 L503.20 18.70 L503.55 18.39 L504.10 18.98 L504.65 18.44 L505.20 18.94 L505.75 18.45 L506.30 19.01 L506.85 18.57 L507.00 18.80 L507.40 18.96 L507.95 18.54 L508.50 18.90 L509.05 18.43 L509.60 18.83 L510.15 18.29 L510.50 18.50 L510.70 18.76 L511.25 18.32 L511.40 18.60 L511.40 18.60" fill="none" stroke="#1f77b4" stroke-width="0.85" stroke-dasharray="2.1 1.0" stroke-linejoin="round" clip-path="url(#c12)"/>
<rect x="270.5" y="12.2" width="253.9" height="147.1" fill="none" stroke="#8a8a8a" stroke-width="0.9"/>
<line x1="269.2" y1="136.4" x2="270.5" y2="136.4" stroke="#555" stroke-width="0.45"/>
<text transform="translate(268.1 138.45) scale(1 1.2)" font-size="4.6" text-anchor="end" fill="#111111" font-family="'DejaVu Sans', 'Liberation Sans', sans-serif">0.2</text>
<line x1="269.2" y1="107.4" x2="270.5" y2="107.4" stroke="#555" stroke-width="0.45"/>
<text transform="translate(268.1 109.45) scale(1 1.2)" font-size="4.6" text-anchor="end" fill="#111111" font-family="'DejaVu Sans', 'Liberation Sans', sans-serif">0.4</text>
<line x1="269.2" y1="78.4" x2="270.5" y2="78.4" stroke="#555" stroke-width="0.45"/>
<text transform="translate(268.1 80.45) scale(1 1.2)" font-size="4.6" text-anchor="end" fill="#111111" font-family="'DejaVu Sans', 'Liberation Sans', sans-serif">0.6</text>
<line x1="269.2" y1="49.4" x2="270.5" y2="49.4" stroke="#555" stroke-width="0.45"/>
<text transform="translate(268.1 51.45) scale(1 1.2)" font-size="4.6" text-anchor="end" fill="#111111" font-family="'DejaVu Sans', 'Liberation Sans', sans-serif">0.8</text>
<line x1="269.2" y1="20.4" x2="270.5" y2="20.4" stroke="#555" stroke-width="0.45"/>
<text transform="translate(268.1 22.45) scale(1 1.2)" font-size="4.6" text-anchor="end" fill="#111111" font-family="'DejaVu Sans', 'Liberation Sans', sans-serif">1.0</text>
<line x1="281.8" y1="159.3" x2="281.8" y2="160.6" stroke="#555" stroke-width="0.45"/>
<text transform="translate(281.8 165.6) scale(1 1.2)" font-size="4.6" text-anchor="middle" fill="#111111" font-family="'DejaVu Sans', 'Liberation Sans', sans-serif">0</text>
<line x1="328.08" y1="159.3" x2="328.08" y2="160.6" stroke="#555" stroke-width="0.45"/>
<text transform="translate(328.08 165.6) scale(1 1.2)" font-size="4.6" text-anchor="middle" fill="#111111" font-family="'DejaVu Sans', 'Liberation Sans', sans-serif">20</text>
<line x1="374.36" y1="159.3" x2="374.36" y2="160.6" stroke="#555" stroke-width="0.45"/>
<text transform="translate(374.36 165.6) scale(1 1.2)" font-size="4.6" text-anchor="middle" fill="#111111" font-family="'DejaVu Sans', 'Liberation Sans', sans-serif">40</text>
<line x1="420.64" y1="159.3" x2="420.64" y2="160.6" stroke="#555" stroke-width="0.45"/>
<text transform="translate(420.64 165.6) scale(1 1.2)" font-size="4.6" text-anchor="middle" fill="#111111" font-family="'DejaVu Sans', 'Liberation Sans', sans-serif">60</text>
<line x1="466.92" y1="159.3" x2="466.92" y2="160.6" stroke="#555" stroke-width="0.45"/>
<text transform="translate(466.92 165.6) scale(1 1.2)" font-size="4.6" text-anchor="middle" fill="#111111" font-family="'DejaVu Sans', 'Liberation Sans', sans-serif">80</text>
<line x1="513.2" y1="159.3" x2="513.2" y2="160.6" stroke="#555" stroke-width="0.45"/>
<text transform="translate(513.2 165.6) scale(1 1.2)" font-size="4.6" text-anchor="middle" fill="#111111" font-family="'DejaVu Sans', 'Liberation Sans', sans-serif">100</text>
<line x1="524.4" y1="20.8" x2="525.7" y2="20.8" stroke="#555" stroke-width="0.45"/>
<text transform="translate(527 22.8) scale(1 1.2)" font-size="4.6" text-anchor="start" fill="#111111" font-family="'DejaVu Sans', 'Liberation Sans', sans-serif">0.95</text>
<line x1="524.4" y1="42.49" x2="525.7" y2="42.49" stroke="#555" stroke-width="0.45"/>
<text transform="translate(527 44.49) scale(1 1.2)" font-size="4.6" text-anchor="start" fill="#111111" font-family="'DejaVu Sans', 'Liberation Sans', sans-serif">0.90</text>
<line x1="524.4" y1="64.18" x2="525.7" y2="64.18" stroke="#555" stroke-width="0.45"/>
<text transform="translate(527 66.18) scale(1 1.2)" font-size="4.6" text-anchor="start" fill="#111111" font-family="'DejaVu Sans', 'Liberation Sans', sans-serif">0.85</text>
<line x1="524.4" y1="85.87" x2="525.7" y2="85.87" stroke="#555" stroke-width="0.45"/>
<text transform="translate(527 87.87) scale(1 1.2)" font-size="4.6" text-anchor="start" fill="#111111" font-family="'DejaVu Sans', 'Liberation Sans', sans-serif">0.80</text>
<line x1="524.4" y1="107.56" x2="525.7" y2="107.56" stroke="#555" stroke-width="0.45"/>
<text transform="translate(527 109.56) scale(1 1.2)" font-size="4.6" text-anchor="start" fill="#111111" font-family="'DejaVu Sans', 'Liberation Sans', sans-serif">0.75</text>
<line x1="524.4" y1="129.25" x2="525.7" y2="129.25" stroke="#555" stroke-width="0.45"/>
<text transform="translate(527 131.25) scale(1 1.2)" font-size="4.6" text-anchor="start" fill="#111111" font-family="'DejaVu Sans', 'Liberation Sans', sans-serif">0.70</text>
<line x1="524.4" y1="150.94" x2="525.7" y2="150.94" stroke="#555" stroke-width="0.45"/>
<text transform="translate(527 152.94) scale(1 1.2)" font-size="4.6" text-anchor="start" fill="#111111" font-family="'DejaVu Sans', 'Liberation Sans', sans-serif">0.65</text>
<text transform="translate(397.85 171.7) scale(1 1.12)" font-size="5.2" text-anchor="middle" fill="#111111" font-family="'DejaVu Sans', 'Liberation Sans', sans-serif">Epoch</text>
<text transform="translate(258.7 86.45) rotate(-90) scale(1 1.12)" font-size="5.2" text-anchor="middle" fill="#111111" font-family="'DejaVu Sans', 'Liberation Sans', sans-serif">Loss</text>
<text transform="translate(543.4 85.75) rotate(-90) scale(1 1.12)" font-size="5.2" text-anchor="middle" fill="#111111" font-family="'DejaVu Sans', 'Liberation Sans', sans-serif">Accuracy</text>
<text transform="translate(397.5 10) scale(1 1.05)" font-size="6.04" text-anchor="middle" fill="#111111" font-family="'DejaVu Sans', 'Liberation Sans', sans-serif">Loss and accuracy curves of DeeplabV3+</text>
<rect x="448.4" y="32" width="67.5" height="8.3" rx="0.8" fill="#ffffff" fill-opacity="0.85" stroke="#dddddd" stroke-width="0.5"/>
<line x1="449.9" y1="36.15" x2="459.6" y2="36.15" stroke="#1f77b4" stroke-width="0.6"/>
<text transform="translate(463.2 37.8) scale(1 1.2)" font-size="4.6" text-anchor="start" fill="#111111" font-family="'DejaVu Sans', 'Liberation Sans', sans-serif">loss</text>
<line x1="481" y1="36.15" x2="489.9" y2="36.15" stroke="#1f77b4" stroke-width="0.65" stroke-dasharray="2.4 1.1"/>
<text transform="translate(494 37.8) scale(1 1.2)" font-size="4.6" text-anchor="start" fill="#111111" font-family="'DejaVu Sans', 'Liberation Sans', sans-serif">accuracy</text>
<defs><clipPath id="c214"><rect x="270.4" y="214.9" width="251.8" height="145.6"/></clipPath></defs>
<line x1="281.8" y1="214.9" x2="281.8" y2="360.5" stroke="#e3e3e3" stroke-width="0.6"/>
<line x1="327.48" y1="214.9" x2="327.48" y2="360.5" stroke="#e3e3e3" stroke-width="0.6"/>
<line x1="373.16" y1="214.9" x2="373.16" y2="360.5" stroke="#e3e3e3" stroke-width="0.6"/>
<line x1="418.84" y1="214.9" x2="418.84" y2="360.5" stroke="#e3e3e3" stroke-width="0.6"/>
<line x1="464.52" y1="214.9" x2="464.52" y2="360.5" stroke="#e3e3e3" stroke-width="0.6"/>
<line x1="510.2" y1="214.9" x2="510.2" y2="360.5" stroke="#e3e3e3" stroke-width="0.6"/>
<line x1="270.4" y1="338.3" x2="522.2" y2="338.3" stroke="#e3e3e3" stroke-width="0.6"/>
<line x1="270.4" y1="309.38" x2="522.2" y2="309.38" stroke="#e3e3e3" stroke-width="0.6"/>
<line x1="270.4" y1="280.45" x2="522.2" y2="280.45" stroke="#e3e3e3" stroke-width="0.6"/>
<line x1="270.4" y1="251.52" x2="522.2" y2="251.52" stroke="#e3e3e3" stroke-width="0.6"/>
<line x1="270.4" y1="222.6" x2="522.2" y2="222.6" stroke="#e3e3e3" stroke-width="0.6"/>
<path d="M281.80 218.55 L282.03 283.34 L282.37 282.11 L282.62 296.23 L282.88 279.65 L283.13 293.92 L283.38 284.88 L283.63 298.99 L283.89 288.15 L284.14 298.87 L284.39 285.86 L284.64 296.62 L284.90 285.52 L285.15 298.02 L285.40 289.09 L285.65 296.13 L285.90 289.81 L286.16 298.64 L286.41 286.87 L286.66 298.84 L286.91 275.90 L287.17 298.87 L287.42 291.93 L287.67 296.41 L287.92 288.96 L288.18 297.64 L288.43 290.56 L288.68 304.81 L288.93 289.15 L289.19 305.30 L289.44 287.71 L289.69 302.36 L289.94 293.78 L290.20 300.73 L290.45 294.59 L290.70 301.35 L290.95 290.84 L291.21 303.09 L291.46 299.36 L291.71 299.07 L291.96 290.43 L292.21 302.24 L292.47 296.23 L292.72 305.82 L292.97 296.19 L293.22 304.38 L293.48 295.20 L293.73 305.46 L293.98 302.05 L294.23 304.54 L294.49 298.08 L294.74 312.16 L294.99 295.52 L295.24 308.60 L295.50 295.60 L295.75 308.19 L296.00 297.49 L296.25 303.77 L296.51 297.53 L296.76 307.44 L297.01 294.54 L297.26 311.52 L297.52 298.31 L297.77 311.01 L298.02 293.30 L298.27 309.19 L298.53 301.01 L298.78 309.16 L299.03 303.07 L299.28 309.62 L299.53 296.38 L299.79 309.55 L300.04 299.31 L300.29 308.56 L300.54 299.11 L300.80 309.21 L301.05 307.33 L301.30 313.84 L301.55 301.51 L301.81 312.56 L302.06 300.37 L302.31 315.81 L302.56 308.59 L302.82 315.85 L303.07 303.06 L303.32 311.19 L303.57 302.96 L303.83 314.96 L304.08 303.83 L304.33 314.59 L304.58 304.40 L304.84 318.30 L305.09 307.82 L305.34 320.16 L305.59 304.77 L305.85 316.77 L306.10 309.60 L306.35 317.14 L306.60 311.79 L306.85 317.55 L307.11 313.32 L307.36 314.53 L307.61 303.72 L307.86 316.09 L308.12 308.62 L308.37 315.48 L308.62 305.84 L308.87 316.85 L309.13 306.81 L309.38 317.00 L309.63 301.76 L309.88 318.77 L310.14 307.73 L310.39 320.81 L310.64 313.23 L310.89 319.41 L311.15 313.45 L311.40 319.66 L311.65 309.60 L311.90 316.35 L312.16 309.96 L312.41 322.26 L312.66 309.61 L312.91 319.87 L313.16 305.63 L313.42 318.32 L313.67 310.97 L313.92 319.40 L314.17 312.38 L314.43 319.66 L314.68 313.51 L314.93 320.49 L315.18 312.66 L315.44 322.01 L315.69 317.38 L315.94 319.34 L316.19 311.18 L316.45 322.70 L316.70 310.35 L316.95 321.54 L317.20 315.66 L317.46 327.86 L317.71 313.94 L317.96 326.78 L318.21 315.93 L318.47 322.06 L318.72 316.47 L318.97 324.34 L319.22 319.37 L319.48 322.34 L319.73 315.04 L319.98 326.35 L320.23 315.27 L320.48 322.41 L320.74 313.71 L320.99 325.06 L321.24 316.28 L321.49 325.83 L321.75 316.83 L322.00 322.14 L322.25 317.36 L322.50 318.58 L322.76 320.98 L323.01 327.47 L323.26 312.24 L323.51 323.02 L323.77 316.81 L324.02 325.12 L324.27 318.07 L324.52 325.59 L324.78 306.23 L325.03 325.61 L325.28 318.61 L325.53 327.44 L325.79 316.50 L326.04 313.53 L326.29 320.69 L326.54 326.11 L326.79 313.74 L327.05 325.76 L327.30 316.34 L327.55 325.42 L327.80 317.54 L328.06 328.72 L328.31 319.09 L328.56 324.68 L328.81 316.18 L329.07 322.58 L329.32 316.92 L329.57 321.34 L329.82 321.14 L330.08 323.30 L330.33 317.58 L330.58 328.07 L330.83 322.27 L331.09 327.20 L331.34 322.83 L331.59 325.05 L331.84 325.18 L332.10 321.55 L332.35 316.45 L332.60 327.49 L332.85 316.55 L333.11 327.41 L333.36 318.48 L333.61 323.44 L333.86 322.16 L334.11 324.70 L334.37 318.58 L334.62 329.69 L334.87 316.82 L335.12 326.59 L335.38 321.29 L335.63 325.26 L335.88 320.97 L336.13 329.61 L336.39 314.47 L336.64 315.90 L336.89 320.25 L337.14 329.11 L337.40 317.62 L337.65 328.24 L337.90 317.57 L338.15 326.96 L338.41 320.69 L338.66 321.72 L338.91 320.65 L339.16 325.05 L339.42 320.26 L339.67 330.08 L339.92 320.88 L340.17 330.46 L340.42 323.18 L340.68 330.37 L340.93 313.76 L341.18 330.49 L341.43 322.00 L341.69 320.36 L341.94 320.28 L342.19 327.94 L342.44 321.49 L342.70 330.46 L342.95 323.88 L343.20 325.92 L343.45 321.74 L343.71 331.62 L343.96 324.60 L344.21 330.14 L344.46 323.47 L344.72 331.79 L344.97 318.32 L345.22 330.50 L345.47 326.44 L345.73 331.37 L345.98 326.94 L346.23 328.81 L346.48 321.45 L346.74 328.89 L346.99 326.77 L347.24 332.82 L347.49 319.24 L347.74 328.82 L348.00 324.84 L348.25 330.13 L348.50 320.73 L348.75 326.60 L349.01 324.58 L349.26 327.95 L349.51 319.95 L349.76 324.18 L350.02 325.83 L350.27 332.50 L350.52 324.17 L350.77 329.49 L351.03 323.56 L351.28 329.32 L351.53 325.49 L351.78 332.48 L352.04 325.93 L352.29 331.79 L352.54 320.63 L352.79 330.65 L353.05 324.25 L353.30 333.50 L353.55 320.19 L353.80 330.90 L354.06 322.67 L354.31 331.81 L354.56 325.96 L354.81 332.01 L355.06 322.21 L355.32 334.96 L355.57 326.70 L355.82 333.39 L356.07 324.81 L356.33 330.37 L356.58 326.98 L356.83 335.39 L357.08 322.15 L357.34 334.77 L357.59 324.72 L357.84 332.10 L358.09 324.25 L358.35 331.18 L358.60 326.74 L358.85 334.31 L359.10 325.42 L359.36 333.46 L359.61 325.56 L359.86 324.53 L360.11 326.36 L360.37 335.64 L360.62 323.84 L360.87 330.77 L361.12 323.59 L361.37 332.24 L361.63 326.58 L361.88 335.38 L362.13 322.42 L362.38 335.14 L362.64 327.48 L362.89 335.81 L363.14 324.17 L363.39 334.74 L363.65 326.53 L363.90 335.56 L364.15 322.77 L364.40 330.50 L364.66 328.63 L364.91 336.87 L365.16 329.80 L365.41 331.91 L365.67 326.63 L365.92 333.03 L366.17 322.66 L366.42 332.83 L366.68 327.05 L366.93 334.35 L367.18 327.81 L367.43 334.21 L367.69 325.01 L367.94 331.86 L368.19 330.37 L368.44 332.68 L368.69 324.00 L368.95 335.08 L369.20 330.50 L369.45 337.86 L369.70 324.85 L369.96 335.99 L370.21 326.76 L370.46 332.53 L370.71 326.94 L370.97 331.01 L371.22 328.83 L371.47 337.57 L371.72 329.70 L371.98 333.08 L372.23 326.46 L372.48 333.77 L372.73 329.92 L372.99 337.69 L373.24 326.74 L373.49 334.54 L373.74 328.67 L374.00 334.15 L374.25 325.67 L374.50 335.25 L374.75 332.48 L375.00 338.22 L375.26 327.00 L375.51 335.70 L375.76 329.76 L376.01 332.02 L376.27 326.67 L376.52 339.94 L376.77 326.57 L377.02 339.08 L377.28 331.90 L377.53 335.74 L377.78 327.91 L378.03 339.36 L378.29 329.72 L378.54 336.08 L378.79 329.68 L379.04 333.85 L379.30 328.92 L379.55 337.22 L379.80 326.45 L380.05 337.93 L380.31 322.88 L380.56 330.67 L380.81 325.83 L381.06 338.47 L381.32 323.37 L381.57 336.76 L381.82 328.81 L382.07 333.13 L382.32 327.49 L382.58 336.13 L382.83 328.11 L383.08 336.63 L383.33 329.40 L383.59 337.03 L383.84 330.61 L384.09 335.52 L384.34 329.29 L384.60 339.26 L384.85 331.65 L385.10 340.63 L385.35 333.13 L385.61 336.36 L385.86 330.17 L386.11 336.21 L386.36 326.77 L386.62 334.48 L386.87 328.88 L387.12 338.70 L387.37 323.13 L387.63 336.70 L387.88 329.06 L388.13 329.03 L388.38 330.32 L388.64 337.08 L388.89 335.79 L389.14 339.41 L389.39 335.22 L389.64 341.10 L389.90 330.65 L390.15 339.16 L390.40 329.92 L390.65 342.55 L390.91 329.78 L391.16 339.24 L391.41 331.80 L391.66 340.80 L391.92 335.39 L392.17 340.10 L392.42 333.83 L392.67 339.88 L392.93 333.67 L393.18 339.54 L393.43 336.54 L393.68 338.88 L393.94 333.93 L394.19 344.77 L394.44 337.50 L394.69 345.64 L394.95 333.39 L395.20 340.33 L395.45 334.66 L395.70 343.10 L395.95 335.40 L396.21 345.70 L396.46 332.43 L396.71 346.41 L396.96 330.48 L397.22 342.72 L397.47 334.50 L397.72 342.49 L397.97 334.38 L398.23 344.27 L398.48 338.40 L398.73 344.89 L398.98 337.35 L399.24 344.97 L399.49 328.92 L399.74 343.94 L399.99 337.49 L400.25 347.31 L400.50 339.16 L400.75 344.61 L401.00 338.07 L401.26 340.19 L401.51 336.96 L401.76 345.34 L402.01 334.75 L402.27 345.07 L402.52 336.11 L402.77 341.71 L403.02 337.43 L403.27 344.20 L403.53 339.62 L403.78 342.46 L404.03 336.45 L404.28 348.64 L404.54 338.87 L404.79 342.98 L405.04 336.38 L405.29 345.50 L405.55 333.49 L405.80 339.84 L406.05 340.07 L406.30 343.48 L406.56 334.19 L406.81 345.04 L407.06 339.16 L407.31 342.54 L407.57 333.82 L407.82 340.87 L408.07 340.25 L408.32 338.73 L408.58 339.00 L408.83 344.44 L409.08 333.36 L409.33 342.68 L409.58 335.37 L409.84 345.95 L410.09 331.77 L410.34 345.72 L410.59 342.36 L410.85 339.14 L411.10 334.90 L411.35 342.98 L411.60 340.65 L411.86 343.36 L412.11 333.06 L412.36 341.84 L412.61 339.31 L412.87 347.29 L413.12 338.67 L413.37 348.67 L413.62 340.41 L413.88 345.13 L414.13 339.93 L414.38 344.76 L414.63 332.79 L414.89 342.32 L415.14 336.74 L415.39 347.03 L415.64 336.48 L415.90 344.96 L416.15 339.05 L416.40 341.21 L416.65 339.66 L416.90 346.54 L417.16 338.40 L417.41 338.99 L417.66 336.70 L417.91 345.11 L418.17 335.79 L418.42 346.18 L418.67 337.18 L418.92 342.17 L419.18 334.70 L419.43 342.62 L419.68 335.60 L419.93 345.31 L420.19 337.73 L420.44 345.22 L420.69 336.49 L420.94 342.85 L421.20 337.57 L421.45 344.85 L421.70 340.43 L421.95 343.99 L422.21 342.04 L422.46 344.80 L422.71 337.76 L422.96 343.12 L423.22 340.91 L423.47 339.64 L423.72 337.36 L423.97 345.11 L424.22 339.43 L424.48 345.15 L424.73 338.00 L424.98 344.21 L425.23 338.31 L425.49 346.55 L425.74 336.32 L425.99 347.39 L426.24 334.30 L426.50 344.86 L426.75 340.37 L427.00 343.43 L427.25 335.00 L427.51 344.98 L427.76 337.23 L428.01 346.47 L428.26 336.84 L428.52 338.88 L428.77 337.20 L429.02 346.91 L429.27 339.96 L429.53 343.04 L429.78 340.62 L430.03 343.84 L430.28 337.57 L430.53 347.86 L430.79 340.93 L431.04 348.62 L431.29 335.69 L431.54 347.72 L431.80 335.62 L432.05 346.61 L432.30 341.08 L432.55 346.62 L432.81 341.86 L433.06 347.91 L433.31 336.67 L433.56 344.73 L433.82 337.98 L434.07 348.78 L434.32 339.22 L434.57 344.29 L434.83 339.13 L435.08 340.65 L435.33 338.62 L435.58 346.08 L435.84 337.17 L436.09 346.55 L436.34 338.47 L436.59 348.77 L436.85 337.96 L437.10 346.58 L437.35 340.41 L437.60 348.45 L437.85 340.71 L438.11 346.60 L438.36 335.25 L438.61 346.67 L438.86 337.94 L439.12 344.23 L439.37 334.90 L439.62 345.87 L439.87 337.27 L440.13 340.75 L440.38 339.72 L440.63 343.06 L440.88 336.78 L441.14 343.84 L441.39 338.07 L441.64 346.53 L441.89 342.56 L442.15 345.10 L442.40 339.63 L442.65 348.44 L442.90 341.48 L443.16 347.76 L443.41 339.65 L443.66 348.01 L443.91 342.90 L444.16 345.17 L444.42 337.29 L444.67 347.08 L444.92 340.93 L445.17 348.31 L445.43 338.02 L445.68 345.94 L445.93 344.77 L446.18 348.26 L446.44 325.83 L446.69 348.64 L446.94 337.30 L447.19 345.60 L447.45 336.87 L447.70 346.90 L447.95 342.14 L448.20 346.05 L448.46 338.77 L448.71 345.63 L448.96 342.15 L449.21 346.13 L449.47 342.46 L449.72 342.94 L449.97 341.80 L450.22 344.76 L450.48 341.06 L450.73 348.54 L450.98 341.58 L451.23 351.94 L451.48 340.34 L451.74 347.23 L451.99 342.91 L452.24 347.14 L452.49 342.31 L452.75 350.82 L453.00 340.35 L453.25 348.03 L453.50 333.18 L453.76 349.06 L454.01 344.33 L454.26 348.04 L454.51 339.35 L454.77 347.67 L455.02 342.73 L455.27 346.71 L455.52 339.38 L455.78 348.71 L456.03 338.00 L456.28 350.25 L456.53 343.42 L456.79 343.66 L457.04 340.24 L457.29 345.43 L457.54 343.12 L457.80 349.49 L458.05 338.72 L458.30 351.14 L458.55 342.28 L458.80 346.13 L459.06 341.42 L459.31 348.89 L459.56 338.76 L459.81 348.75 L460.07 340.84 L460.32 343.61 L460.57 339.73 L460.82 348.89 L461.08 341.68 L461.33 348.37 L461.58 332.76 L461.83 346.60 L462.09 341.33 L462.34 352.66 L462.59 342.07 L462.84 347.88 L463.10 342.67 L463.35 351.33 L463.60 341.07 L463.85 348.98 L464.11 343.19 L464.36 351.95 L464.61 338.51 L464.86 348.68 L465.11 343.10 L465.37 345.19 L465.62 341.00 L465.87 348.24 L466.12 342.18 L466.38 348.64 L466.63 343.62 L466.88 348.41 L467.13 338.11 L467.39 350.27 L467.64 344.63 L467.89 350.47 L468.14 343.38 L468.40 351.51 L468.65 343.46 L468.90 346.89 L469.15 343.99 L469.41 351.23 L469.66 340.16 L469.91 348.44 L470.16 340.34 L470.42 345.80 L470.67 340.23 L470.92 347.89 L471.17 340.43 L471.43 349.08 L471.68 341.95 L471.93 348.79 L472.18 343.41 L472.43 348.10 L472.69 342.27 L472.94 349.15 L473.19 344.14 L473.44 349.67 L473.70 345.35 L473.95 350.12 L474.20 339.83 L474.45 350.57 L474.71 344.26 L474.96 348.21 L475.21 343.52 L475.46 349.88 L475.72 343.40 L475.97 346.17 L476.22 341.03 L476.47 347.13 L476.73 340.36 L476.98 350.86 L477.23 345.70 L477.48 351.12 L477.74 343.98 L477.99 348.50 L478.24 346.24 L478.49 349.08 L478.74 341.30 L479.00 348.91 L479.25 342.21 L479.50 350.21 L479.75 337.20 L480.01 354.16 L480.26 343.38 L480.51 347.88 L480.76 340.84 L481.02 348.79 L481.27 345.81 L481.52 350.60 L481.77 341.08 L482.03 346.24 L482.28 342.70 L482.53 348.52 L482.78 343.96 L483.04 351.29 L483.29 342.24 L483.54 352.81 L483.79 344.69 L484.05 353.14 L484.30 341.55 L484.55 349.28 L484.80 342.63 L485.06 349.90 L485.31 345.21 L485.56 351.63 L485.81 343.21 L486.06 350.43 L486.32 344.31 L486.57 354.40 L486.82 343.45 L487.07 346.88 L487.33 341.51 L487.58 349.37 L487.83 343.38 L488.08 353.41 L488.34 344.97 L488.59 351.89 L488.84 339.55 L489.09 353.51 L489.35 343.63 L489.60 349.50 L489.85 343.76 L490.10 350.71 L490.36 341.51 L490.61 347.55 L490.86 343.62 L491.11 349.54 L491.37 343.18 L491.62 348.28 L491.87 342.90 L492.12 348.37 L492.38 337.74 L492.63 351.64 L492.88 346.91 L493.13 346.74 L493.38 342.05 L493.64 354.35 L493.89 344.17 L494.14 351.38 L494.39 346.00 L494.65 354.09 L494.90 344.05 L495.15 349.23 L495.40 346.14 L495.66 343.87 L495.91 347.42 L496.16 348.82 L496.41 344.40 L496.67 348.22 L496.92 344.94 L497.17 349.10 L497.42 346.00 L497.68 348.97 L497.93 343.59 L498.18 345.33 L498.43 340.80 L498.69 355.17 L498.94 343.55 L499.19 349.95 L499.44 346.07 L499.69 350.46 L499.95 341.24 L500.20 352.04 L500.45 348.10 L500.70 347.78 L500.96 345.37 L501.21 350.90 L501.46 345.15 L501.71 351.79 L501.97 345.93 L502.22 351.97 L502.47 349.22 L502.72 352.56 L502.98 346.28 L503.23 347.32 L503.48 343.96 L503.73 350.72 L503.99 345.11 L504.24 351.65 L504.49 342.56 L504.74 354.59 L505.00 346.54 L505.25 349.35 L505.50 348.15 L505.75 352.08 L506.01 346.00 L506.26 350.35 L506.51 346.30 L506.76 351.03 L507.01 348.07 L507.27 353.84 L507.52 346.01 L507.77 349.98 L508.02 346.35 L508.28 356.14 L508.53 344.08 L508.78 351.43 L509.03 344.33 L509.29 349.20" fill="none" stroke="#1f77b4" stroke-width="0.65" stroke-linejoin="round" clip-path="url(#c214)"/>
<path d="M281.75 355.00 L282.20 330.00 L282.70 300.00 L283.30 287.00 L284.60 275.20 L285.80 267.40 L287.10 259.50 L287.70 254.80 L288.50 258.00 L289.60 252.98 L289.80 250.90 L290.15 250.39 L290.70 252.76 L291.25 251.41 L291.30 252.50 L291.80 252.64 L292.35 250.28 L292.90 250.10 L292.90 250.95 L293.45 249.18 L294.00 251.35 L294.50 250.90 L294.55 250.02 L295.10 254.10 L295.50 255.00 L295.65 255.05 L296.20 259.26 L296.50 260.20 L296.75 256.95 L297.30 252.96 L297.40 250.90 L297.85 246.77 L298.40 245.13 L298.90 241.10 L298.95 240.56 L299.50 244.72 L300.05 245.62 L300.40 248.50 L300.60 249.85 L301.15 249.52 L301.40 251.40 L301.70 249.21 L302.25 241.87 L302.30 242.10 L302.80 244.13 L303.35 243.07 L303.80 245.10 L303.90 246.03 L304.45 243.13 L304.80 243.10 L305.00 245.53 L305.55 248.38 L305.80 251.40 L306.10 250.92 L306.65 247.25 L307.20 246.00 L307.20 246.69 L307.75 246.74 L308.20 248.50 L308.30 248.51 L308.85 242.39 L309.40 240.19 L309.50 238.20 L309.95 238.16 L310.50 240.72 L311.05 240.33 L311.10 241.10 L311.60 247.16 L312.15 251.03 L312.60 256.30 L312.70 256.13 L313.25 249.27 L313.80 245.80 L314.10 242.10 L314.35 241.04 L314.90 242.05 L315.10 241.10 L315.45 243.90 L316.00 251.77 L316.50 256.30 L316.55 254.95 L317.10 249.95 L317.65 241.59 L318.00 238.20 L318.20 238.71 L318.75 236.20 L319.30 236.70 L319.30 237.41 L319.85 239.64 L320.40 245.70 L320.90 248.50 L320.95 247.10 L321.50 244.01 L322.05 236.49 L322.40 234.30 L322.60 236.36 L323.15 237.63 L323.40 239.70 L323.70 239.64 L324.25 236.29 L324.40 236.70 L324.80 237.31 L325.35 235.79 L325.90 237.55 L326.30 236.30 L326.45 236.03 L327.00 240.61 L327.55 241.63 L328.10 246.24 L328.30 246.50 L328.65 242.85 L329.20 239.70 L329.70 234.80 L329.75 234.32 L330.30 237.28 L330.85 236.63 L331.20 238.70 L331.40 239.43 L331.95 236.30 L332.50 237.32 L333.05 234.26 L333.20 234.80 L333.60 234.95 L334.15 231.98 L334.60 232.30 L334.70 233.17 L335.25 230.97 L335.80 232.58 L336.35 230.93 L336.90 232.38 L337.10 231.40 L337.45 231.36 L338.00 234.00 L338.55 232.89 L339.00 234.80 L339.10 236.37 L339.65 237.24 L340.20 241.62 L340.50 242.10 L340.75 239.11 L341.30 237.28 L341.50 234.70 L341.85 233.28 L342.40 234.23 L342.95 232.06 L343.50 232.84 L343.60 232.00 L344.05 230.74 L344.60 232.02 L345.15 230.28 L345.70 231.18 L346.25 229.55 L346.40 230.20 L346.80 230.76 L347.35 229.37 L347.90 230.57 L348.45 229.02 L349.00 230.13 L349.10 229.30 L349.55 230.04 L350.10 233.33 L350.50 233.80 L350.65 233.71 L351.20 236.04 L351.75 236.08 L352.30 238.86 L352.40 238.40 L352.85 235.99 L353.40 235.68 L353.95 232.35 L354.20 232.00 L354.50 232.63 L355.05 230.71 L355.60 231.61 L356.15 229.87 L356.40 230.20 L356.70 231.20 L357.25 231.26 L357.80 233.33 L358.20 233.50 L358.35 232.56 L358.90 233.27 L359.45 231.24 L360.00 231.10 L360.00 231.77 L360.55 232.14 L361.10 234.94 L361.50 235.30 L361.65 234.34 L362.20 234.59 L362.75 232.23 L363.30 232.53 L363.60 231.10 L363.85 230.36 L364.40 230.97 L364.95 229.00 L365.50 230.13 L366.05 228.26 L366.40 228.40 L366.60 229.41 L367.15 228.22 L367.70 229.96 L368.25 228.77 L368.80 230.87 L369.10 230.20 L369.35 229.40 L369.90 230.76 L370.45 229.13 L371.00 230.09 L371.55 228.69 L371.80 229.30 L372.10 229.86 L372.65 228.70 L373.20 230.56 L373.75 229.49 L374.30 231.01 L374.50 230.20 L374.85 229.26 L375.40 230.52 L375.95 228.89 L376.50 230.15 L377.05 228.69 L377.30 229.30 L377.60 230.32 L378.15 229.45 L378.70 231.39 L379.10 231.10 L379.25 230.36 L379.80 232.09 L380.35 231.17 L380.90 233.01 L381.45 232.24 L381.50 232.90 L382.00 232.89 L382.55 230.44 L383.10 231.05 L383.60 229.30 L383.65 228.81 L384.20 230.58 L384.75 229.28 L385.30 230.90 L385.85 229.92 L386.40 231.10 L386.40 231.63 L386.95 229.66 L387.50 230.12 L388.05 227.74 L388.20 228.40 L388.60 229.56 L389.15 228.41 L389.70 230.19 L390.25 229.18 L390.80 230.69 L390.90 230.20 L391.35 229.00 L391.90 229.74 L392.45 228.14 L392.70 228.40 L393.00 229.35 L393.55 228.80 L394.10 231.26 L394.50 231.10 L394.65 230.35 L395.20 231.13 L395.75 229.44 L396.30 230.43 L396.40 229.50 L396.85 229.21 L397.40 230.61 L397.95 229.37 L398.20 230.20 L398.50 230.73 L399.05 228.90 L399.60 229.73 L400.15 227.93 L400.50 228.00 L400.70 228.28 L401.25 226.93 L401.80 227.43 L402.35 225.89 L402.70 226.20 L402.90 226.87 L403.45 226.28 L404.00 227.60 L404.50 227.50 L404.55 226.98 L405.10 228.18 L405.65 227.32 L406.20 228.28 L406.40 228.00 L406.75 227.60 L407.30 228.83 L407.85 228.10 L408.20 228.80 L408.40 229.44 L408.95 228.47 L409.50 229.59 L410.00 229.30 L410.05 228.71 L410.60 229.18 L411.15 227.60 L411.70 227.91 L412.25 226.50 L412.70 226.50 L412.80 226.97 L413.35 226.48 L413.90 227.35 L414.45 226.69 L414.50 227.30 L415.00 227.39 L415.55 226.39 L416.10 226.74 L416.40 226.20 L416.65 225.69 L417.20 226.52 L417.75 225.35 L418.30 226.07 L418.85 224.89 L419.40 225.74 L419.95 224.65 L420.00 225.10 L420.50 225.63 L421.05 224.72 L421.60 225.89 L422.15 224.84 L422.70 225.80 L423.25 225.00 L423.60 225.60 L423.80 226.02 L424.35 225.59 L424.90 226.70 L425.45 226.12 L425.50 226.50 L426.00 226.74 L426.55 225.49 L427.10 225.95 L427.65 224.80 L428.20 225.39 L428.75 224.12 L429.10 224.40 L429.30 225.03 L429.85 224.04 L430.40 225.03 L430.95 224.19 L431.50 225.43 L432.05 224.58 L432.60 225.41 L432.70 225.10 L433.15 224.44 L433.70 225.17 L434.25 224.01 L434.80 224.57 L435.35 223.56 L435.50 223.80 L435.90 224.66 L436.45 224.30 L437.00 225.62 L437.55 225.36 L438.10 226.91 L438.20 226.50 L438.65 225.70 L439.20 226.46 L439.75 225.42 L440.30 225.50 L440.30 225.85 L440.85 224.75 L441.40 225.15 L441.95 223.64 L442.10 224.10 L442.50 224.44 L443.05 223.69 L443.60 224.55 L444.15 223.58 L444.70 224.00 L444.70 224.40 L445.25 223.56 L445.80 224.20 L446.35 223.44 L446.90 224.21 L447.30 223.70 L447.45 223.24 L448.00 224.51 L448.55 224.00 L449.10 224.91 L449.50 224.80 L449.65 224.46 L450.20 225.45 L450.75 224.83 L451.30 226.23 L451.60 225.80 L451.85 225.27 L452.40 225.69 L452.95 224.47 L453.30 224.50 L453.50 224.78 L454.05 223.61 L454.60 223.91 L455.00 223.20 L455.15 222.90 L455.70 223.70 L456.25 223.03 L456.80 223.92 L457.20 223.60 L457.35 223.16 L457.90 224.35 L458.45 223.51 L459.00 224.50 L459.40 224.10 L459.55 223.75 L460.10 224.54 L460.65 223.36 L461.20 224.28 L461.75 223.19 L462.30 223.69 L462.85 223.47 L463.40 223.54 L463.70 223.40 L463.95 223.27 L464.50 223.33 L465.05 223.09 L465.60 223.14 L466.15 222.93 L466.70 222.98 L467.25 222.75 L467.80 222.80 L468.00 222.70 L468.35 222.60 L468.90 222.64 L469.45 222.41 L470.00 222.50 L470.55 222.29 L471.10 222.35 L471.65 222.13 L472.20 222.23 L472.75 221.97 L473.20 222.00 L473.30 222.08 L473.85 221.85 L474.40 221.96 L474.95 221.78 L475.50 221.88 L476.05 221.67 L476.60 221.76 L477.15 221.57 L477.70 221.65 L478.25 221.42 L478.40 221.50 L478.80 221.57 L479.35 221.44 L479.90 221.62 L480.45 221.45 L481.00 221.65 L481.55 221.47 L482.10 221.63 L482.65 221.52 L483.20 221.68 L483.50 221.60 L483.75 221.54 L484.30 221.70 L484.85 221.60 L485.40 221.73 L485.95 221.63 L486.50 221.78 L487.05 221.64 L487.60 221.83 L488.15 221.70 L488.70 221.80 L488.70 221.85 L489.25 221.71 L489.80 221.81 L490.35 221.65 L490.90 221.77 L491.45 221.61 L492.00 221.73 L492.55 221.55 L493.10 221.68 L493.65 221.51 L493.90 221.60 L494.20 221.69 L494.75 221.50 L495.30 221.67 L495.85 221.49 L496.40 221.61 L496.95 221.45 L497.50 221.62 L498.05 221.47 L498.60 221.59 L499.10 221.50 L499.15 221.42 L499.70 221.54 L500.25 221.40 L500.80 221.53 L501.35 221.33 L501.90 221.47 L502.45 221.30 L503.00 221.42 L503.55 221.23 L504.10 221.39 L504.20 221.30 L504.65 221.24 L505.20 221.37 L505.75 221.18 L506.30 221.32 L506.85 221.16 L507.40 221.31 L507.95 221.13 L508.50 221.28 L509.05 221.15 L509.40 221.20 L509.40 221.20" fill="none" stroke="#1f77b4" stroke-width="0.85" stroke-dasharray="2.1 1.0" stroke-linejoin="round" clip-path="url(#c214)"/>
<rect x="270.4" y="214.9" width="251.8" height="145.6" fill="none" stroke="#8a8a8a" stroke-width="0.9"/>
<line x1="269.1" y1="338.3" x2="270.4" y2="338.3" stroke="#555" stroke-width="0.45"/>
<text transform="translate(268 340.35) scale(1 1.2)" font-size="4.6" text-anchor="end" fill="#111111" font-family="'DejaVu Sans', 'Liberation Sans', sans-serif">0.2</text>
<line x1="269.1" y1="309.38" x2="270.4" y2="309.38" stroke="#555" stroke-width="0.45"/>
<text transform="translate(268 311.43) scale(1 1.2)" font-size="4.6" text-anchor="end" fill="#111111" font-family="'DejaVu Sans', 'Liberation Sans', sans-serif">0.4</text>
<line x1="269.1" y1="280.45" x2="270.4" y2="280.45" stroke="#555" stroke-width="0.45"/>
<text transform="translate(268 282.5) scale(1 1.2)" font-size="4.6" text-anchor="end" fill="#111111" font-family="'DejaVu Sans', 'Liberation Sans', sans-serif">0.6</text>
<line x1="269.1" y1="251.52" x2="270.4" y2="251.52" stroke="#555" stroke-width="0.45"/>
<text transform="translate(268 253.57) scale(1 1.2)" font-size="4.6" text-anchor="end" fill="#111111" font-family="'DejaVu Sans', 'Liberation Sans', sans-serif">0.8</text>
<line x1="269.1" y1="222.6" x2="270.4" y2="222.6" stroke="#555" stroke-width="0.45"/>
<text transform="translate(268 224.65) scale(1 1.2)" font-size="4.6" text-anchor="end" fill="#111111" font-family="'DejaVu Sans', 'Liberation Sans', sans-serif">1.0</text>
<line x1="281.8" y1="360.5" x2="281.8" y2="361.8" stroke="#555" stroke-width="0.45"/>
<text transform="translate(281.8 366.8) scale(1 1.2)" font-size="4.6" text-anchor="middle" fill="#111111" font-family="'DejaVu Sans', 'Liberation Sans', sans-serif">0</text>
<line x1="327.48" y1="360.5" x2="327.48" y2="361.8" stroke="#555" stroke-width="0.45"/>
<text transform="translate(327.48 366.8) scale(1 1.2)" font-size="4.6" text-anchor="middle" fill="#111111" font-family="'DejaVu Sans', 'Liberation Sans', sans-serif">20</text>
<line x1="373.16" y1="360.5" x2="373.16" y2="361.8" stroke="#555" stroke-width="0.45"/>
<text transform="translate(373.16 366.8) scale(1 1.2)" font-size="4.6" text-anchor="middle" fill="#111111" font-family="'DejaVu Sans', 'Liberation Sans', sans-serif">40</text>
<line x1="418.84" y1="360.5" x2="418.84" y2="361.8" stroke="#555" stroke-width="0.45"/>
<text transform="translate(418.84 366.8) scale(1 1.2)" font-size="4.6" text-anchor="middle" fill="#111111" font-family="'DejaVu Sans', 'Liberation Sans', sans-serif">60</text>
<line x1="464.52" y1="360.5" x2="464.52" y2="361.8" stroke="#555" stroke-width="0.45"/>
<text transform="translate(464.52 366.8) scale(1 1.2)" font-size="4.6" text-anchor="middle" fill="#111111" font-family="'DejaVu Sans', 'Liberation Sans', sans-serif">80</text>
<line x1="510.2" y1="360.5" x2="510.2" y2="361.8" stroke="#555" stroke-width="0.45"/>
<text transform="translate(510.2 366.8) scale(1 1.2)" font-size="4.6" text-anchor="middle" fill="#111111" font-family="'DejaVu Sans', 'Liberation Sans', sans-serif">100</text>
<line x1="522.2" y1="219.1" x2="523.5" y2="219.1" stroke="#555" stroke-width="0.45"/>
<text transform="translate(524.8 221.1) scale(1 1.2)" font-size="4.6" text-anchor="start" fill="#111111" font-family="'DejaVu Sans', 'Liberation Sans', sans-serif">0.975</text>
<line x1="522.2" y1="238" x2="523.5" y2="238" stroke="#555" stroke-width="0.45"/>
<text transform="translate(524.8 240) scale(1 1.2)" font-size="4.6" text-anchor="start" fill="#111111" font-family="'DejaVu Sans', 'Liberation Sans', sans-serif">0.950</text>
<line x1="522.2" y1="256.9" x2="523.5" y2="256.9" stroke="#555" stroke-width="0.45"/>
<text transform="translate(524.8 258.9) scale(1 1.2)" font-size="4.6" text-anchor="start" fill="#111111" font-family="'DejaVu Sans', 'Liberation Sans', sans-serif">0.925</text>
<line x1="522.2" y1="275.8" x2="523.5" y2="275.8" stroke="#555" stroke-width="0.45"/>
<text transform="translate(524.8 277.8) scale(1 1.2)" font-size="4.6" text-anchor="start" fill="#111111" font-family="'DejaVu Sans', 'Liberation Sans', sans-serif">0.900</text>
<line x1="522.2" y1="294.7" x2="523.5" y2="294.7" stroke="#555" stroke-width="0.45"/>
<text transform="translate(524.8 296.7) scale(1 1.2)" font-size="4.6" text-anchor="start" fill="#111111" font-family="'DejaVu Sans', 'Liberation Sans', sans-serif">0.875</text>
<line x1="522.2" y1="313.6" x2="523.5" y2="313.6" stroke="#555" stroke-width="0.45"/>
<text transform="translate(524.8 315.6) scale(1 1.2)" font-size="4.6" text-anchor="start" fill="#111111" font-family="'DejaVu Sans', 'Liberation Sans', sans-serif">0.850</text>
<line x1="522.2" y1="332.5" x2="523.5" y2="332.5" stroke="#555" stroke-width="0.45"/>
<text transform="translate(524.8 334.5) scale(1 1.2)" font-size="4.6" text-anchor="start" fill="#111111" font-family="'DejaVu Sans', 'Liberation Sans', sans-serif">0.825</text>
<line x1="522.2" y1="351.4" x2="523.5" y2="351.4" stroke="#555" stroke-width="0.45"/>
<text transform="translate(524.8 353.4) scale(1 1.2)" font-size="4.6" text-anchor="start" fill="#111111" font-family="'DejaVu Sans', 'Liberation Sans', sans-serif">0.800</text>
<text transform="translate(396.7 372.9) scale(1 1.12)" font-size="5.2" text-anchor="middle" fill="#111111" font-family="'DejaVu Sans', 'Liberation Sans', sans-serif">Epoch</text>
<text transform="translate(258.6 288.4) rotate(-90) scale(1 1.12)" font-size="5.2" text-anchor="middle" fill="#111111" font-family="'DejaVu Sans', 'Liberation Sans', sans-serif">Loss</text>
<text transform="translate(543.4 287.7) rotate(-90) scale(1 1.12)" font-size="5.2" text-anchor="middle" fill="#111111" font-family="'DejaVu Sans', 'Liberation Sans', sans-serif">Accuracy</text>
<text transform="translate(396 213.5) scale(1 1.05)" font-size="6.04" text-anchor="middle" fill="#111111" font-family="'DejaVu Sans', 'Liberation Sans', sans-serif">Loss and accuracy curves of WID-DeeplabV3+</text>
<rect x="446.4" y="235" width="67.4" height="8.1" rx="0.8" fill="#ffffff" fill-opacity="0.85" stroke="#dddddd" stroke-width="0.5"/>
<line x1="447.9" y1="239.05" x2="457.6" y2="239.05" stroke="#1f77b4" stroke-width="0.6"/>
<text transform="translate(461.2 240.7) scale(1 1.2)" font-size="4.6" text-anchor="start" fill="#111111" font-family="'DejaVu Sans', 'Liberation Sans', sans-serif">loss</text>
<line x1="479" y1="239.05" x2="487.9" y2="239.05" stroke="#1f77b4" stroke-width="0.65" stroke-dasharray="2.4 1.1"/>
<text transform="translate(492 240.7) scale(1 1.2)" font-size="4.6" text-anchor="start" fill="#111111" font-family="'DejaVu Sans', 'Liberation Sans', sans-serif">accuracy</text>
<text transform="translate(125.6 198.3)" font-size="18.6" text-anchor="middle" fill="#000000" font-family="'Liberation Serif', 'DejaVu Serif', serif" stroke="#000" stroke-width="0.15">(a)</text>
<text transform="translate(397.5 198.3)" font-size="18.6" text-anchor="middle" fill="#000000" font-family="'Liberation Serif', 'DejaVu Serif', serif" stroke="#000" stroke-width="0.15">(c)</text>
<text transform="translate(125.6 399.8)" font-size="18.6" text-anchor="middle" fill="#000000" font-family="'Liberation Serif', 'DejaVu Serif', serif" stroke="#000" stroke-width="0.15">(b)</text>
<text transform="translate(399 399.8)" font-size="18.6" text-anchor="middle" fill="#000000" font-family="'Liberation Serif', 'DejaVu Serif', serif" stroke="#000" stroke-width="0.15">(d)</text>
</svg>
</body></html>
